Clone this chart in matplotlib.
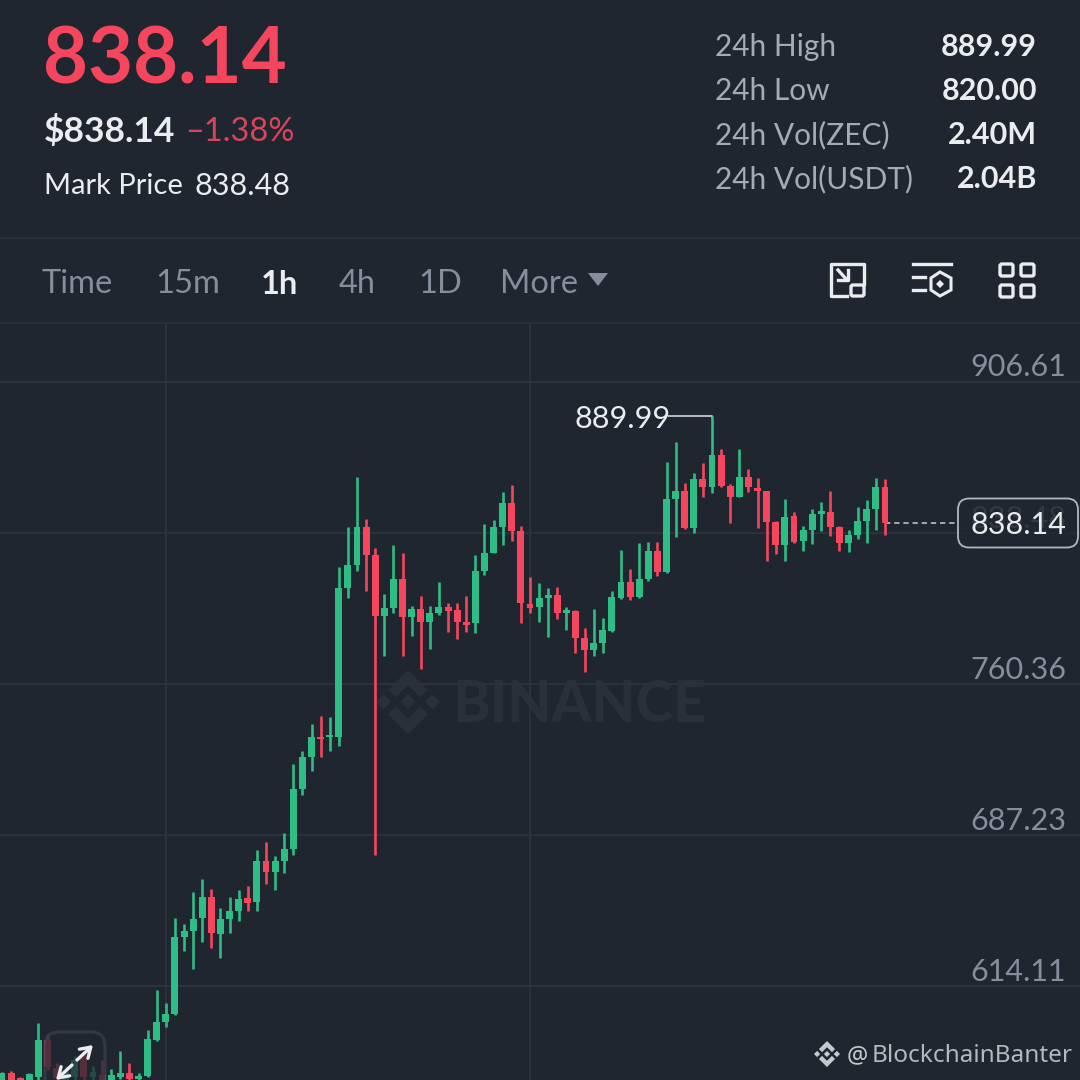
import matplotlib
matplotlib.use("Agg")
import matplotlib.pyplot as plt
from matplotlib.patches import FancyBboxPatch, Polygon

# hourly candles, oldest first
opens = [567.8, 572.2, 569.8, 566.9, 570.2, 588.1, 574.6, 568.8, 570.2, 579.4,
         570.2, 571.2, 568.8, 570.2, 572.2, 569.3, 570.7, 588.1, 596.8, 600.7,
         638.0, 640.8, 647.1, 657.3, 639.4, 646.6, 650.5, 656.8, 654.9, 674.7,
         669.4, 674.7, 680.5, 709.5, 725.0, 734.6, 734.6, 734.6, 806.7, 817.9,
         836.2, 822.7, 793.2, 797.1, 811.1, 792.7, 796.6, 790.3, 794.6, 797.5,
         796.1, 790.3, 789.8, 815.0, 823.7, 836.2, 847.8, 834.3, 799.0, 797.5,
         801.9, 803.3, 794.6, 795.6, 782.5, 776.7, 780.1, 785.9, 801.9, 809.6,
         802.4, 811.1, 824.6, 814.5, 849.8, 853.7, 835.8, 859.5, 855.6, 871.1,
         856.1, 850.8, 860.4, 855.1, 853.7, 838.7, 827.5, 841.6, 829.5, 834.8,
         842.5, 843.5, 836.2, 828.5, 832.4, 839.2, 844.9, 855.6]
highs = [572.7, 573.1, 570.2, 572.2, 596.4, 590.6, 577.0, 575.6, 580.4, 581.8,
         575.6, 578.5, 574.1, 582.8, 577.0, 572.2, 593.0, 612.3, 606.0, 647.1,
         644.2, 659.7, 666.0, 661.2, 652.0, 657.3, 660.7, 662.6, 680.0, 683.9,
         677.1, 688.2, 721.6, 727.9, 740.9, 744.8, 744.3, 816.9, 836.2, 860.4,
         840.1, 826.1, 803.8, 827.5, 823.7, 798.0, 802.9, 798.0, 809.6, 799.5,
         799.5, 802.9, 822.7, 837.7, 839.6, 853.2, 856.6, 836.7, 812.0, 809.1,
         806.7, 807.2, 797.5, 796.1, 787.4, 796.6, 792.2, 805.3, 825.1, 815.9,
         828.5, 829.0, 829.0, 867.7, 877.4, 857.5, 862.4, 867.2, 889.99, 874.0,
         857.0, 874.0, 864.3, 859.9, 853.7, 839.2, 849.8, 843.5, 836.7, 844.9,
         848.3, 853.7, 836.7, 834.8, 845.9, 849.3, 859.9, 859.4]
lows = [566.4, 567.8, 565.9, 565.4, 568.8, 573.6, 566.9, 566.9, 568.3, 568.3,
        567.8, 565.9, 566.9, 569.3, 567.8, 567.8, 570.2, 587.6, 594.4, 600.2,
        631.2, 622.5, 635.5, 632.6, 627.8, 639.9, 645.7, 650.5, 650.5, 663.6,
        660.7, 668.9, 677.6, 706.6, 718.2, 725.0, 727.9, 730.2, 801.9, 815.0,
        805.3, 677.6, 773.9, 794.6, 773.9, 783.5, 767.6, 777.3, 793.7, 785.4,
        782.0, 785.4, 784.9, 813.0, 823.7, 827.5, 829.5, 789.8, 794.6, 790.3,
        782.9, 791.7, 786.3, 775.3, 766.1, 773.9, 775.3, 785.4, 801.4, 800.9,
        801.9, 810.2, 812.5, 814.0, 831.4, 835.3, 833.4, 850.8, 852.7, 855.6,
        838.2, 850.8, 853.2, 835.8, 819.9, 823.2, 819.9, 828.5, 824.6, 828.0,
        834.3, 831.9, 824.6, 824.1, 830.4, 828.5, 834.8, 832.4]
closes = [572.2, 569.0, 566.9, 571.7, 588.1, 575.1, 569.8, 572.7, 578.5, 570.2,
          572.7, 567.8, 571.2, 572.2, 569.3, 570.7, 588.6, 596.8, 600.7, 638.0,
          640.8, 646.6, 657.3, 639.9, 646.6, 650.5, 656.3, 654.4, 674.7, 669.4,
          674.7, 680.5, 709.5, 725.0, 734.6, 733.7, 735.6, 806.7, 817.9, 836.2,
          822.7, 793.2, 797.1, 811.1, 792.7, 796.6, 790.3, 794.6, 797.5, 795.6,
          790.3, 788.8, 815.0, 823.7, 836.2, 847.8, 834.3, 799.5, 797.1, 801.9,
          803.3, 794.6, 796.1, 782.5, 776.7, 780.1, 786.3, 802.4, 809.6, 802.4,
          811.1, 824.6, 814.5, 849.8, 853.7, 835.8, 859.5, 855.6, 871.1, 856.1,
          850.8, 860.4, 855.6, 853.7, 838.7, 827.5, 841.1, 829.0, 834.8, 842.5,
          843.9, 836.2, 828.5, 832.4, 839.2, 844.9, 855.6, 838.14]

price_ticks = [906.61, 833.48, 760.36, 687.23, 614.11]
time_tick_idx = [18, 58]
last_price = 838.14
high_price = 889.99
high_idx = 78

stats_names = ["24h High", "24h Low", "24h Vol(ZEC)", "24h Vol(USDT)"]
stats_values = ["889.99", "820.00", "2.40M", "2.04B"]
intervals = ["Time", "15m", "1h", "4h", "1D", "More"]
interval_x = [41, 155, 261, 339, 418, 500]

BG = "#1f2630"
GRID = "#2d333d"
GREEN = "#2ebd85"
RED = "#f6465d"
WHITE = "#eaecef"
MUTED = "#848e9c"
SOFT = "#a5abb5"
WATERMARK = "#2a303a"
FONT = "Lato"

plt.rcParams["font.family"] = [FONT, "DejaVu Sans"]

fig = plt.figure(figsize=(10.8, 10.8), dpi=100, facecolor=BG)


def pixel_axes(zorder):
    ax = fig.add_axes([0, 0, 1, 1], zorder=zorder)
    ax.set_xlim(0, 1080)
    ax.set_ylim(1080, 0)
    ax.axis("off")
    return ax


under = pixel_axes(0)
over = pixel_axes(2)

# chart area, y px 323..1080, scale
chart = fig.add_axes([0, 0, 1, (1080 - 323) / 1080], zorder=1)
chart.patch.set_visible(False)
px_per_price = 151.2 / 73.125
chart.set_ylim(906.61 - (1080 - 381.5) / px_per_price, 906.61 + (381.5 - 323) / px_per_price)
chart.set_xlim(-2 / 9.103, (1080 - 2) / 9.103)
chart.axis("off")

for p in price_ticks:
    chart.axhline(p, color=GRID, lw=1.4, zorder=1)
for i in time_tick_idx:
    chart.axvline(i, color=GRID, lw=1.4, zorder=1)

for i in range(len(opens)):
    col = GREEN if closes[i] >= opens[i] else RED
    chart.vlines(i, lows[i], highs[i], color=col, lw=1.9, zorder=3)
    chart.bar(i, abs(closes[i] - opens[i]), bottom=min(opens[i], closes[i]),
              width=0.76, color=col, zorder=3, linewidth=0)

# last price dashes and high marker
chart.plot([len(opens) - 1, 104.8], [last_price, last_price], color="#c9ccd1",
           lw=1.1, ls=(0, (3.5, 2.5)), zorder=2)
chart.plot([high_idx, high_idx, 73.3], [high_price - 1, high_price, high_price],
           color="#b9bcc2", lw=1.4, zorder=2)

# header
under.text(43, 61, "838.14", color=RED, fontsize=56, fontweight="bold", va="center")
under.text(44, 132, "$838.14", color=WHITE, fontsize=25.5, fontweight="bold", va="center")
under.text(185, 132, "\u20131.38%", color="#d8455c", fontsize=23.5, va="center")
under.text(44, 186, "Mark Price", color=WHITE, fontsize=21, va="center")
under.text(195, 186, "838.48", color=WHITE, fontsize=22, va="center")

for k, (name, value) in enumerate(zip(stats_names, stats_values)):
    y = 47 + k * 44
    under.text(715, y, name, color=SOFT, fontsize=21.5, va="center")
    under.text(1037, y, value, color=WHITE, fontsize=22, fontweight="bold", va="center", ha="right")

under.plot([0, 1080], [237.5, 237.5], color=GRID, lw=1.2)
under.plot([0, 1080], [322.5, 322.5], color=GRID, lw=1.2)

# interval selector
for label, x in zip(intervals, interval_x):
    active = label == "1h"
    under.text(x, 284, label, color=WHITE if active else MUTED, fontsize=23.5,
               fontweight="bold" if active else "normal", va="center")
under.add_patch(Polygon([(588, 273), (608, 273), (598, 286)], closed=True, fc=MUTED, ec="none"))

# toolbar icons
ICON = "#eaecef"
under.plot([847, 831, 831, 864, 864], [296, 296, 264, 264, 284], color=ICON, lw=2.4)
under.add_patch(FancyBboxPatch((851, 285), 13, 11, boxstyle="round,pad=0,rounding_size=2",
                               fc=BG, ec=ICON, lw=2.4))
under.plot([838, 847], [270, 280], color=ICON, lw=2.4)
under.plot([838, 848, 848], [280, 280, 270], color=ICON, lw=2.4)
under.plot([913, 951], [264, 264], color=ICON, lw=2.4)
under.plot([913, 925], [277, 277], color=ICON, lw=2.4)
under.plot([913, 925], [290, 290], color=ICON, lw=2.4)
under.add_patch(Polygon([(940, 272), (951, 278), (951, 290), (940, 296), (931, 290), (931, 278)],
                        closed=True, fc="none", ec=ICON, lw=2.2))
under.add_patch(Polygon([(940, 280), (944, 284), (940, 288), (936, 284)], closed=True, fc=ICON, ec="none"))
for x0 in (1000, 1021):
    for y0 in (264, 285):
        under.add_patch(FancyBboxPatch((x0, y0), 13, 12, boxstyle="round,pad=0,rounding_size=2",
                                       fc="none", ec=ICON, lw=2.4))


def binance_logo(ax, cx, cy, s, color, zorder=1):
    # four chevrons and a centre diamond, s is half the height
    def poly(pts):
        ax.add_patch(Polygon([(cx + a * s, cy + b * s) for a, b in pts], closed=True,
                             fc=color, ec="none", zorder=zorder))
    poly([(0, -1), (0.62, -0.38), (0.38, -0.14), (0, -0.52), (-0.38, -0.14), (-0.62, -0.38)])
    poly([(0, 1), (0.62, 0.38), (0.38, 0.14), (0, 0.52), (-0.38, 0.14), (-0.62, 0.38)])
    poly([(0, -0.24), (0.24, 0), (0, 0.24), (-0.24, 0)])
    poly([(-0.76, -0.24), (-0.52, 0), (-0.76, 0.24), (-1, 0)])
    poly([(0.76, -0.24), (1, 0), (0.76, 0.24), (0.52, 0)])


# watermark sits under the candles
binance_logo(under, 408, 702, 32, WATERMARK)
under.text(453, 705, "BINANCE", color=WATERMARK, fontsize=41, fontweight="black", va="center")

# price axis labels, the 833.48 one stays hidden behind the last price tag
for p in price_ticks:
    y = 381.5 + (906.61 - p) * px_per_price
    under.text(1066, y - 14, f"{p:.2f}", color=MUTED, fontsize=22, ha="right", va="center")

# last price tag
over.add_patch(FancyBboxPatch((958, 498.5), 120, 49, boxstyle="round,pad=0,rounding_size=11",
                              fc=BG, ec="#d5d7db", lw=1.3, alpha=0.82))
over.text(1066, 525, f"{last_price:.2f}", color=WHITE, fontsize=22, ha="right", va="center")
over.text(671, 419, f"{high_price:.2f}", color=WHITE, fontsize=22, ha="right", va="center")

# fullscreen button over the old candles
over.add_patch(FancyBboxPatch((45, 1032), 60, 60, boxstyle="round,pad=0,rounding_size=14",
                              fc=BG, ec="#3a404a", lw=2.2, alpha=0.75))
over.annotate("", xy=(93, 1045), xytext=(77, 1060),
              arrowprops=dict(arrowstyle="->,head_length=0.7,head_width=0.45", color=WHITE, lw=2.4,
                              shrinkA=0, shrinkB=0))
over.annotate("", xy=(56, 1080), xytext=(72, 1065),
              arrowprops=dict(arrowstyle="->,head_length=0.7,head_width=0.45", color=WHITE, lw=2.4,
                              shrinkA=0, shrinkB=0))

# author credit
binance_logo(over, 827, 1054, 13, "#c6c9ce", zorder=3)
over.text(847, 1056, "@", color="#c6c9ce", fontsize=17, va="center", family=["Noto Sans"])
over.text(872, 1056, "BlockchainBanter", color="#b4b8bf", fontsize=17.5, va="center", family=["Noto Sans"])

fig.savefig("out.png", dpi=100, facecolor=BG)
plt.close(fig)
